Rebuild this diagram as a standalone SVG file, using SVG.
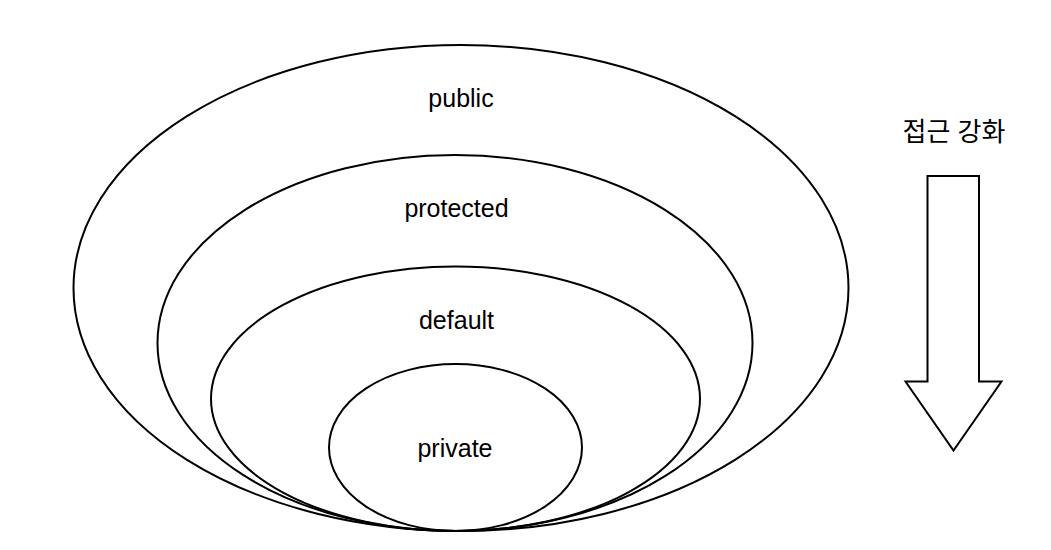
<svg xmlns="http://www.w3.org/2000/svg" width="1051" height="550" viewBox="0 0 1051 550">
<style>
.shape{fill:none;stroke:#000;stroke-width:2}
.lbl{font-family:"Liberation Sans",Arial,sans-serif;font-size:25px;fill:#000;text-anchor:middle}
.kr{font-family:"Liberation Sans","Noto Sans CJK KR",sans-serif;font-size:26px;fill:#000;text-anchor:middle}
</style>
<rect width="1051" height="550" fill="#fff"/>
<g id="public">
<ellipse class="shape" cx="461" cy="288" rx="387.5" ry="243"/>
<text class="lbl" x="461" y="107">public</text>
</g>
<g id="protected">
<ellipse class="shape" cx="455" cy="343" rx="297.5" ry="188"/>
<text class="lbl" x="456.5" y="216.5">protected</text>
</g>
<g id="default">
<ellipse class="shape" cx="455.5" cy="398.75" rx="244.5" ry="132.25"/>
<text class="lbl" x="456.5" y="328.5">default</text>
</g>
<g id="private">
<ellipse class="shape" cx="455.5" cy="447.5" rx="126.5" ry="83.5"/>
<text class="lbl" x="455" y="456.5">private</text>
</g>
<g id="arrow">
<polygon class="shape" points="927.5,176 979,176 979,381.5 1001.5,381.5 953.5,450.5 905.5,381.5 927.5,381.5"/>
<text class="kr" x="954" y="140.5">접근 강화</text>
</g>
</svg>
